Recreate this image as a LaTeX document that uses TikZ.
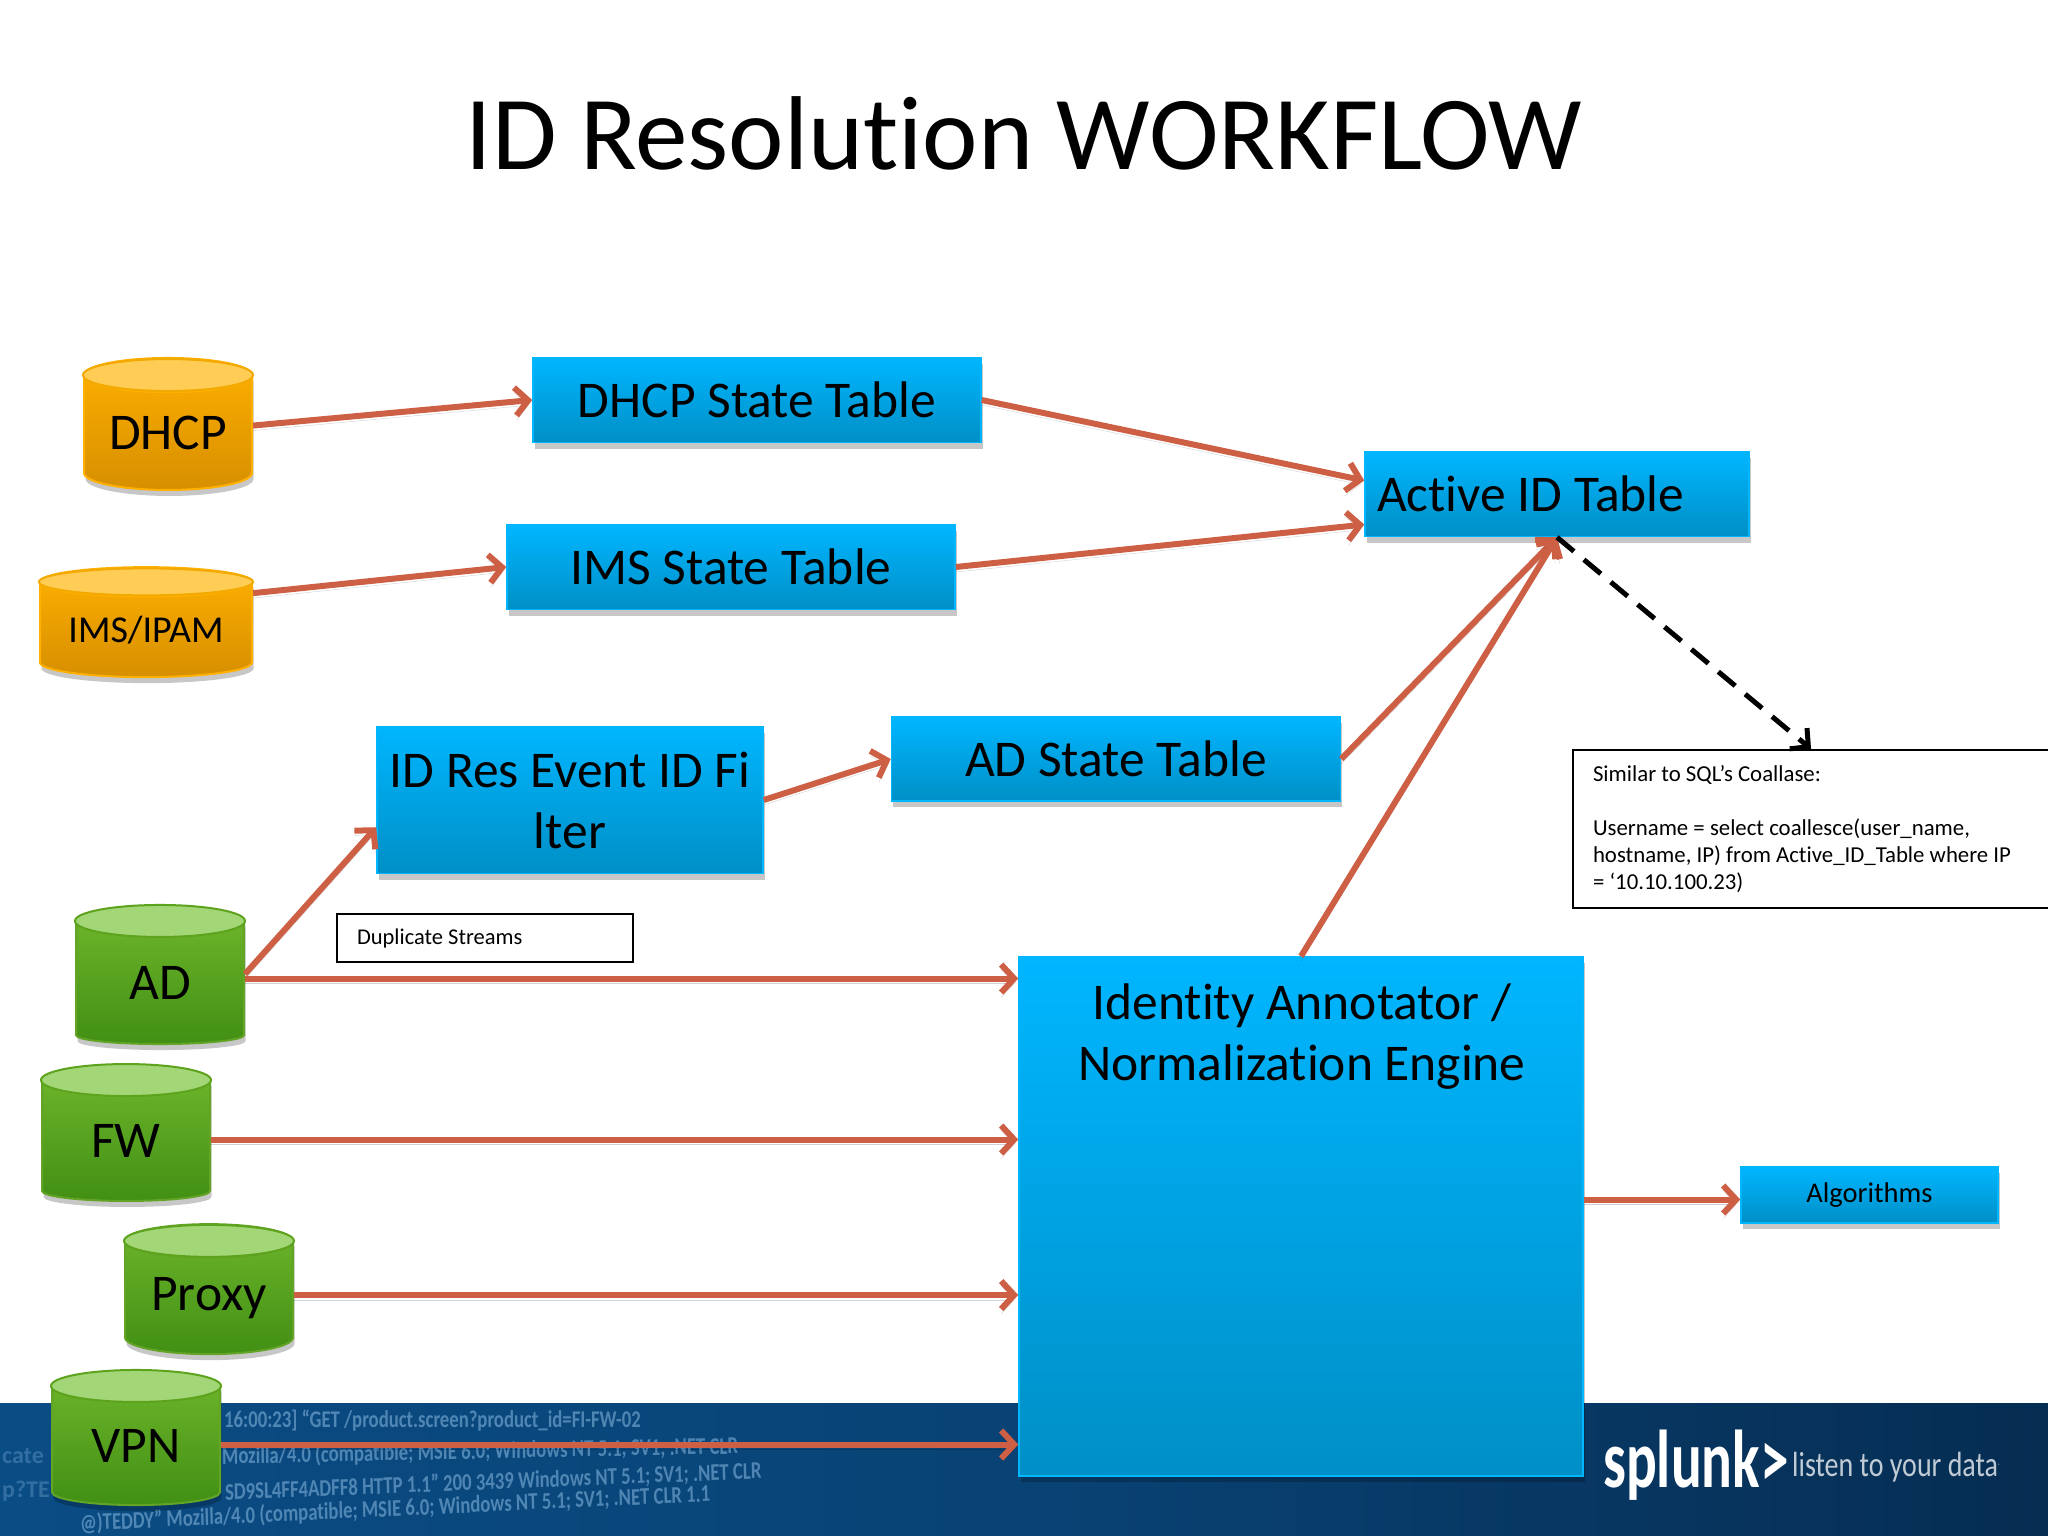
\documentclass[tikz,border=0pt]{standalone}
\usepackage{fontspec}
\setmainfont[Ligatures=NoCommon]{Carlito}
\usetikzlibrary{arrows.meta,shapes.geometric,shadows,calc}
\definecolor{boxtop}{HTML}{00B6FF}
\definecolor{boxbot}{HTML}{008FC6}
\definecolor{flow}{HTML}{CD5F45}
\definecolor{bannerL}{HTML}{0A4C84}
\definecolor{bannerR}{HTML}{062D52}
\definecolor{logline}{HTML}{7FB0D8}
\definecolor{ambertop}{HTML}{FFB000}
\definecolor{amberbot}{HTML}{D68F00}
\definecolor{leaftop}{HTML}{6EB62B}
\definecolor{leafbot}{HTML}{418F14}
\tikzset{
  softshadow/.style={drop shadow={shadow xshift=1.5pt,shadow yshift=-6pt,opacity=.22,fill=black}},
  tablebox/.style={rectangle,top color=boxtop,bottom color=boxbot,draw=boxtop,line width=1.5pt,inner sep=0pt,softshadow,font=\fontsize{51.5}{61}\selectfont,align=center},
  dbase/.style={cylinder,shape border rotate=90,aspect=.29,minimum width=168pt,inner sep=0pt,softshadow,font=\fontsize{51.5}{61}\selectfont,line width=2pt},
  orangedb/.style={dbase,top color=ambertop,bottom color=amberbot,draw=ambertop},
  greendb/.style={dbase,top color=leaftop,bottom color=leafbot,draw=leaftop!90!black},
  flowarrow/.style={draw=flow,line width=6pt,-{Straight Barb[length=13pt,width=28pt,line width=6pt]},preaction={draw=black,draw opacity=.18,transform canvas={yshift=-5pt}}},
  notebox/.style={rectangle,draw=black,line width=2pt,fill=white,anchor=north west,align=flush left},
  logtext/.style={text=logline,opacity=.6,anchor=west,inner sep=0pt,font=\fontsize{24}{24}\selectfont\bfseries}
}
\begin{document}
\begin{tikzpicture}[x=1pt,y=-1pt]
   \useasboundingbox (0,0) rectangle (2048,1536);
   \fill[white] (0,0) rectangle (2048,1536);
   % footer band
   \shade[left color=bannerL,right color=bannerR,middle color=bannerL!70!bannerR] (0,1403) rectangle (2048,1536);
   \node[logtext,xscale=.78] (logone) at (224,1421) {16:00:23] “GET /product.screen?product\_id=FI-FW-02};
   \node[logtext,xscale=.78,rotate=.9] (logtwo) at (222,1457) {Mozilla/4.0 (compatible; MSIE 6.0; Windows NT 5.1; SV1; .NET CLR};
   \node[logtext,xscale=.78,rotate=1.8] (logthree) at (225,1493) {SD9SL4FF4ADFF8 HTTP 1.1” 200 3439 Windows NT 5.1; SV1; .NET CLR};
   \node[logtext,xscale=.78,rotate=2.1] (logfour) at (80,1524) {@)TEDDY” Mozilla/4.0 (compatible; MSIE 6.0; Windows NT 5.1; SV1; .NET CLR 1.1};
   \node[logtext,opacity=.35] (logcate) at (2,1456) {cate};
   \node[logtext,opacity=.35] (logtedd) at (2,1491) {p?TE};
   \node[text=white,anchor=west,inner sep=0pt,xscale=.7,font=\fontsize{82}{82}\selectfont\bfseries] (logo) at (1603,1465) {splunk>};
   \node[text=white,opacity=.75,anchor=west,inner sep=0pt,xscale=.8,font=\fontsize{35}{35}\selectfont] (tagline) at (1792,1467) {listen to your data\textsuperscript{\tiny ®}};
   % title
   \node[font=\fontsize{105}{105}\selectfont] (title) at (1024,133) {ID Resolution WORKFLOW};
   % sources
   \node[orangedb,minimum height=132pt] (dhcp) at (168,433) {DHCP};
   \node[orangedb,aspect=.19,minimum width=212pt,minimum height=110pt,font=\fontsize{38}{46}\selectfont] (ims) at (146,630) {IMS/IPAM};
   \node[greendb,minimum height=132pt] (ad) at (160,983) {AD};
   \node[greendb,minimum height=131pt] (fw) at (126,1141) {FW};
   \node[greendb,minimum height=130pt] (proxy) at (209,1298) {Proxy};
   \node[greendb,minimum height=132pt] (vpn) at (136,1446) {VPN};
   \foreach \nm/\capc/\rimc/\capr in {dhcp/FFCC55/F2A900/16,ims/FFCC55/F2A900/13.5,ad/A3D677/5DA31E/16,fw/A3D677/5DA31E/16,proxy/A3D677/5DA31E/16,vpn/A3D677/5DA31E/16}{
     \definecolor{capfill}{HTML}{\capc}
     \definecolor{caprim}{HTML}{\rimc}
     \draw[fill=capfill,draw=caprim,line width=2pt] let \p1=(\nm.before top), \p2=(\nm.after top), \n1={veclen(\x2-\x1,\y2-\y1)/2} in ($(\p1)!.5!(\p2)$) ellipse [x radius=\n1, y radius=\capr pt];
   }
   % tables
   \node[tablebox,minimum width=448pt,minimum height=85pt] (dhcpstate) at (757,400) {DHCP State Table};
   \node[tablebox,minimum width=448pt,minimum height=85pt] (imsstate) at (731,567) {IMS State Table};
   \node[tablebox,minimum width=386pt,minimum height=147pt] (filter) at (570,800) {ID Res Event ID Fi\\lter};
   \node[tablebox,minimum width=449pt,minimum height=84pt] (adstate) at (1116,759) {AD State Table};
   \node[tablebox,minimum width=384pt,minimum height=85pt,text width=360pt,align=flush left] (active) at (1557,494) {Active ID Table};
   \node[tablebox,minimum width=564pt,minimum height=519pt] (engine) at (1301,1216.5) {};
   \node[font=\fontsize{51.5}{61}\selectfont,align=center] (enginetext) at (1302,1037) {Identity Annotator /\\Normalization Engine};
   \node[tablebox,minimum width=257pt,minimum height=56pt,font=\fontsize{28.5}{34}\selectfont] (algo) at (1869.5,1195) {Algorithms};
   % notes
   \node[notebox,minimum width=296pt,minimum height=48pt,text width=256pt,inner xsep=20pt,font=\fontsize{22.5}{27}\selectfont] (dupes) at (336,913) {Duplicate Streams};
   \node[notebox,minimum width=476pt,minimum height=158pt,text width=436pt,inner xsep=20pt,font=\fontsize{22.8}{27}\selectfont] (note) at (1572,749) {Similar to SQL’s Coallase:\\[27pt]Username = select coallesce(user\_name,\\hostname, IP) from Active\_ID\_Table where IP\\= ‘10.10.100.23)};
   % connectors
   \draw[flowarrow] (dhcp.5) -- (dhcpstate.west);
   \draw[flowarrow] (ims.19) -- (imsstate.west);
   \draw[flowarrow] (dhcpstate.east) -- (active.176);
   \draw[flowarrow] (imsstate.east) -- (active.189.5);
   \draw[flowarrow] (ad.6) -- (filter.188.5);
   \draw[flowarrow] (filter.east) -- (adstate.west);
   \draw[flowarrow] (adstate.east) -- (active.south);
   \draw[flowarrow] (engine.north) -- (active.south);
   \draw[flowarrow] (ad.3) -- (ad.3 -| engine.west);
   \draw[flowarrow] (fw.1) -- (fw.1 -| engine.west);
   \draw[flowarrow] (proxy.2) -- (proxy.2 -| engine.west);
   \draw[flowarrow] (vpn.1) -- (vpn.1 -| engine.west);
   \draw[flowarrow] (algo.182 -| engine.east) -- (algo.182);
   \draw[line width=5pt,dashed,dash pattern=on 22pt off 13pt,-{Straight Barb[length=13pt,width=27pt,line width=5pt]}] (active.south) -- (note.north);
\end{tikzpicture}
\end{document}
